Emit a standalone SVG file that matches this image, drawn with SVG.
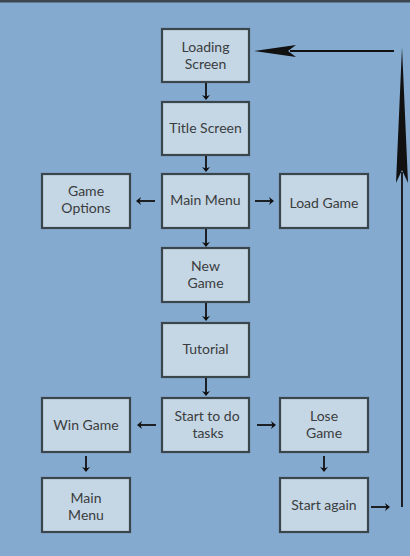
<svg xmlns="http://www.w3.org/2000/svg" width="410" height="556" viewBox="0 0 410 556">
<style>
.n rect{fill:#c5d6e4;stroke:#3b454c;stroke-width:2.2}
.n text{font-family:Lato,"Open Sans",sans-serif;font-size:14px;fill:#3a3d40;text-anchor:middle}
.c line{stroke:#111;stroke-width:1.8}
.c path{fill:#111}
</style>
<rect x="0" y="0" width="410" height="556" fill="#85aacf"/>
<rect x="0" y="0" width="410" height="2.5" fill="#3b4650"/>
<g id="loading" class="n"><rect x="162" y="29" width="87" height="53"/><text x="205.5" y="51.5">Loading</text><text x="205.5" y="68.5">Screen</text></g>
<g id="title" class="n"><rect x="162" y="102" width="87" height="53"/><text x="205.5" y="133">Title Screen</text></g>
<g id="mainmenu" class="n"><rect x="162" y="174" width="87" height="54"/><text x="205.5" y="205">Main Menu</text></g>
<g id="options" class="n"><rect x="42" y="174" width="88" height="54"/><text x="86" y="196">Game</text><text x="86" y="213">Options</text></g>
<g id="loadgame" class="n"><rect x="280" y="174" width="88" height="54"/><text x="324" y="208">Load Game</text></g>
<g id="newgame" class="n"><rect x="162" y="248" width="87" height="54"/><text x="205.5" y="271">New</text><text x="205.5" y="288">Game</text></g>
<g id="tutorial" class="n"><rect x="162" y="323" width="87" height="54"/><text x="205.5" y="354">Tutorial</text></g>
<g id="tasks" class="n"><rect x="162" y="398" width="87" height="54"/><text x="207" y="421">Start to do</text><text x="208" y="438">tasks</text></g>
<g id="win" class="n"><rect x="42" y="398" width="88" height="54"/><text x="86" y="430">Win Game</text></g>
<g id="lose" class="n"><rect x="280" y="398" width="88" height="54"/><text x="324" y="420.5">Lose</text><text x="324" y="437.5">Game</text></g>
<g id="mainmenu2" class="n"><rect x="42" y="478" width="88" height="54"/><text x="86" y="503">Main</text><text x="86" y="520">Menu</text></g>
<g id="again" class="n"><rect x="280" y="478" width="88" height="54"/><text x="324" y="510">Start again</text></g>
<g id="connectors" class="c">
<line x1="206" y1="83" x2="206" y2="97"/><path d="M206,100 L202,95 L206,96.5 L210,95 Z"/>
<line x1="206" y1="156" x2="206" y2="169"/><path d="M206,172 L202,167 L206,168.5 L210,167 Z"/>
<line x1="206" y1="229" x2="206" y2="244"/><path d="M206,247 L202,242 L206,243.5 L210,242 Z"/>
<line x1="206" y1="303" x2="206" y2="318"/><path d="M206,321 L202,316 L206,317.5 L210,316 Z"/>
<line x1="206" y1="378" x2="206" y2="393"/><path d="M206,396 L202,391 L206,392.5 L210,391 Z"/>
<line x1="86" y1="456" x2="86" y2="469"/><path d="M86,472 L82,467 L86,468.5 L90,467 Z"/>
<line x1="324" y1="456" x2="324" y2="469"/><path d="M324,472 L320,467 L324,468.5 L328,467 Z"/>
<line x1="155" y1="201" x2="139" y2="201"/><path d="M136,201 L141,197 L139.5,201 L141,205 Z"/>
<line x1="255" y1="201" x2="271" y2="201"/><path d="M274,201 L269,197 L270.5,201 L269,205 Z"/>
<line x1="156" y1="425" x2="140" y2="425"/><path d="M137,425 L142,421 L140.5,425 L142,429 Z"/>
<line x1="257" y1="425" x2="273" y2="425"/><path d="M276,425 L271,421 L272.5,425 L271,429 Z"/>
<line x1="371" y1="507" x2="387" y2="507"/><path d="M390,507 L385,503 L386.5,507 L385,511 Z"/>
<line x1="402" y1="507" x2="402" y2="172"/><path d="M402,47 L408,183 L402,170 L396,183 Z"/>
<line x1="394" y1="51" x2="290" y2="51"/><path d="M254,51 L296,45 L288,51 L296,57 Z"/>
</g>
</svg>
